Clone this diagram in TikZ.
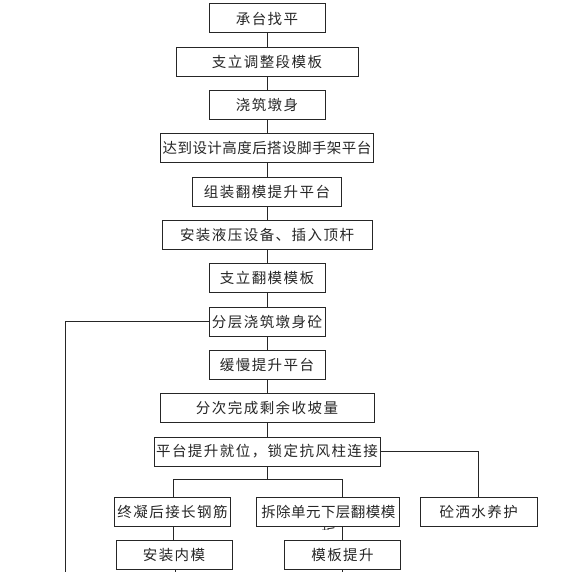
\documentclass[tikz,border=0pt]{standalone}
\usepackage{fontspec}
\setmainfont{Noto Sans CJK SC}[LetterSpace=10]
\newfontfamily\tightfont{Noto Sans CJK SC}[LetterSpace=3]
\usepackage{tikz}
\usetikzlibrary{positioning}
\tikzstyle{stepbox} = [rectangle, minimum width=116pt, minimum height=29pt, inner sep=0pt, text centered, draw=black!85, line width=1pt, text=black!85, font=\fontsize{14.5pt}{16pt}\selectfont]
\tikzstyle{link} = [line width=1pt, draw=black!85]

\begin{document}
\begin{tikzpicture}[node distance=43.3pt]
    \useasboundingbox (0,0) rectangle (567pt,-572pt);
    \node (cap) [stepbox] at (267pt,-18.5pt) {承台找平};
    \node (adjust) [stepbox, below of=cap, minimum width=182pt] {支立调整段模板};
    \node (pour) [stepbox, below of=adjust] {浇筑墩身};
    \node (scaffold) [stepbox, below of=pour, minimum width=213pt, font=\fontsize{14.5pt}{16pt}\tightfont] {达到设计高度后搭设脚手架平台};
    \node (platform) [stepbox, below of=scaffold, minimum width=149pt] {组装翻模提升平台};
    \node (hydraulic) [stepbox, below of=platform, minimum width=210pt] {安装液压设备、插入顶杆};
    \node (formwork) [stepbox, below of=hydraulic] {支立翻模模板};
    \node (layer) [stepbox, below of=formwork] {分层浇筑墩身砼};
    \node (raise) [stepbox, below of=layer] {缓慢提升平台};
    \node (slope) [stepbox, below of=raise, minimum width=214pt] {分次完成剩余收坡量};
    \node (lift) [stepbox, below of=slope, minimum width=226pt] {平台提升就位，锁定抗风柱连接};
    \node (rebar) [stepbox, below of=lift, yshift=-16.7pt, xshift=-94.5pt] {终凝后接长钢筋};
    \node (dismantle) [stepbox, below of=lift, yshift=-16.7pt, xshift=61.3pt, minimum width=143pt, font=\fontsize{14.5pt}{16pt}\tightfont] {拆除单元下层翻模模};
    \node (curing) [stepbox, below of=lift, yshift=-16.7pt, xshift=211.7pt, minimum width=117pt] {砼洒水养护};
    \node (inner) [stepbox, below of=rebar, xshift=1.5pt] {安装内模};
    \node (modlift) [stepbox, below of=dismantle, xshift=14.2pt] {模板提升};
    % cut-off second line of the dismantle box
    \begin{scope}
        \clip (257pt,-522pt) rectangle (400pt,-529pt);
        \node (dismantletail) [text=black!85, font=\fontsize{14.5pt}{16pt}\tightfont] at (328.5pt,-534pt) {板};
    \end{scope}
    \coordinate (loopend) at (65.5pt,-580pt);
    \coordinate (forkl) at (173.5pt,-479pt);
    \coordinate (forkr) at (342pt,-479pt);
    \coordinate (innerend) at (175pt,-580pt);
    \coordinate (modend) at (342.5pt,-580pt);
    \draw [link] (cap) -- (adjust);
    \draw [link] (adjust) -- (pour);
    \draw [link] (pour) -- (scaffold);
    \draw [link] (scaffold) -- (platform);
    \draw [link] (platform) -- (hydraulic);
    \draw [link] (hydraulic) -- (formwork);
    \draw [link] (formwork) -- (layer);
    \draw [link] (layer) -- (raise);
    \draw [link] (raise) -- (slope);
    \draw [link] (slope) -- (lift);
    \draw [link] (layer.west) -| (loopend);
    \draw [link] (lift.south) -- (lift.south |- forkl);
    \draw [link] (forkl) -- (forkr);
    \draw [link] (forkl) -- (forkl |- rebar.north);
    \draw [link] (forkr) -- (forkr |- dismantle.north);
    \draw [link] (lift.east) -| (curing.north);
    \draw [link] (forkl |- rebar.south) -- (forkl |- inner.north);
    \draw [link] (forkr |- dismantle.south) -- (forkr |- modlift.north);
    \draw [link] (inner.south -| innerend) -- (innerend);
    \draw [link] (modlift.south -| modend) -- (modend);
\end{tikzpicture}
\end{document}
